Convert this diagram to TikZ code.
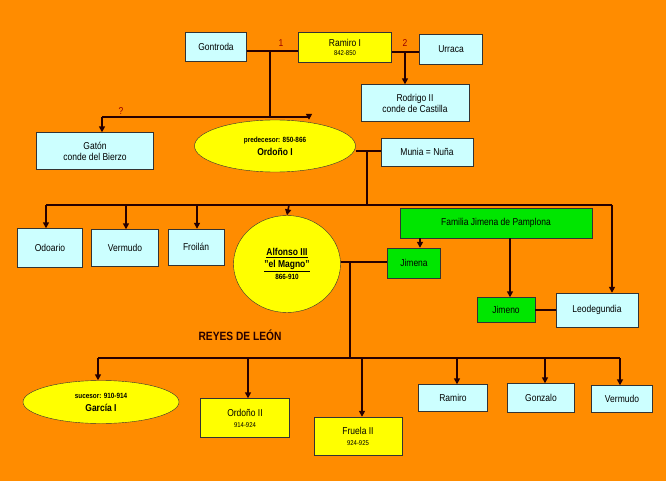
\documentclass[tikz,border=0pt]{standalone}
\usepackage{fontspec}
\setmainfont{Liberation Sans}[FakeStretch=0.85]
\usetikzlibrary{shapes.geometric,arrows.meta}
\definecolor{bg}{RGB}{255,140,0}
\definecolor{cy}{RGB}{204,255,255}
\definecolor{ye}{RGB}{255,255,0}
\definecolor{gr}{RGB}{0,230,0}
\begin{document}
\begin{tikzpicture}[x=1pt,y=-1pt,
  bx/.style={draw=black!80,fill=cy,inner sep=0pt,align=center,font=\fontsize{10}{11}\selectfont},
  yb/.style={bx,fill=ye},
  gb/.style={bx,fill=gr},
  el/.style={ellipse,draw=black!80,fill=ye,inner sep=0pt,align=center},
  ln/.style={line width=1.6pt,draw=black!85!red},
  ar/.style={ln,-{Triangle[length=6pt,width=6pt]}},
  lb/.style={text=red!60!black,font=\fontsize{10}{11}\selectfont}]
\fill[bg] (0,0) rectangle (666,481);
\node[bx,minimum width=61,minimum height=29] (gon) at (216,47) {Gontroda};
\node[yb,minimum width=93,minimum height=30] (ram) at (345,47) {Ramiro I\\[-2pt]{\fontsize{7}{8}\selectfont 842-850}};
\node[bx,minimum width=63,minimum height=30] (urr) at (451,49) {Urraca};
\node[bx,minimum width=108,minimum height=37] (rod) at (415,103) {Rodrigo II\\conde de Castilla};
\node[bx,minimum width=117,minimum height=37] (gat) at (95,151) {Gatón\\conde del Bierzo};
\node[el,minimum width=161,minimum height=52] (ord) at (275,146) {\fontsize{7.5}{9}\selectfont\bfseries predecesor: 850-866\\[1pt]\fontsize{10}{11}\selectfont\bfseries Ordoño I};
\node[bx,minimum width=92,minimum height=28] (mun) at (427,152) {Munia = Nuña};
\node[bx,minimum width=65,minimum height=39] (odo) at (50,248) {Odoario};
\node[bx,minimum width=67,minimum height=37] (ver) at (125,248) {Vermudo};
\node[bx,minimum width=56,minimum height=36] (fro) at (196,247) {Froilán};
\node[el,minimum width=107,minimum height=97] (alf) at (287,264) {\fontsize{10}{11}\selectfont\bfseries\underline{Alfonso III}\\\fontsize{10}{11}\selectfont\bfseries\underline{"el Magno"}\\\fontsize{7.5}{9}\selectfont\bfseries 866-910};
\node[gb,minimum width=192,minimum height=30] (fam) at (496,223) {Familia Jimena de Pamplona};
\node[gb,minimum width=53,minimum height=30] (jim) at (414,263) {Jimena};
\node[gb,minimum width=58,minimum height=25] (jmo) at (506,310) {Jimeno};
\node[bx,minimum width=82,minimum height=34] (leo) at (597,310) {Leodegundia};
\node[font=\fontsize{12}{14}\selectfont\bfseries,text=black!85!red] (rey) at (240,335) {REYES DE LEÓN};
\node[el,minimum width=156,minimum height=43] (gar) at (101,402) {\fontsize{7.5}{9}\selectfont\bfseries sucesor: 910-914\\[1pt]\fontsize{10}{11}\selectfont\bfseries García I};
\node[yb,minimum width=89,minimum height=39] (or2) at (245,418) {Ordoño II\\{\fontsize{7}{8}\selectfont 914-924}};
\node[yb,minimum width=88,minimum height=38] (fru) at (358,436) {Fruela II\\{\fontsize{7}{8}\selectfont 924-925}};
\node[bx,minimum width=69,minimum height=27] (ra2) at (453,398) {Ramiro};
\node[bx,minimum width=67,minimum height=29] (gonz) at (541,398) {Gonzalo};
\node[bx,minimum width=61,minimum height=27] (ve2) at (622,399) {Vermudo};
% top
\draw[ln] (gon.east|-0,51) -- (ram.west|-0,51);
\node[lb] (l1) at (281,43) {1};
\draw[ln] (ram.east|-0,52) -- (urr.west|-0,52);
\node[lb] (l2) at (405,43) {2};
\draw[ar] (405,52) -- (rod.north-|405,0);
\draw[ln] (270,51) -- (270,117);
\draw[ln] (102,117) -- (309,117);
\draw[ar] (102,117) -- (gat.north-|102,0);
\draw[ar] (309,117) -- (ord.north-|309,0);
\node[lb] (q) at (121,111) {?};
% Ordono I
\draw[ln] (ord.east|-0,151) -- (mun.west|-0,151);
\draw[ln] (367,151) -- (367,205);
\draw[ln] (46,205) -- (612,205);
\draw[ar] (46,205) -- (odo.north-|46,0);
\draw[ar] (126,205) -- (ver.north-|126,0);
\draw[ar] (197,205) -- (fro.north-|197,0);
\draw[ar] (289,205) -- (alf.north);
\draw[ar] (612,205) -- (leo.north-|612,0);
% Familia
\draw[ar] (fam.south-|420,0) -- (jim.north-|420,0);
\draw[ar] (fam.south-|510,0) -- (jmo.north-|510,0);
\draw[ln] (jmo) -- (leo);
% Alfonso
\draw[ln] (alf.east|-0,262) -- (jim.west|-0,262);
\draw[ln] (350,262) -- (350,358);
\draw[ln] (98,358) -- (620,358);
\draw[ar] (98,358) -- (gar.north-|98,0);
\draw[ar] (248,358) -- (or2.north-|248,0);
\draw[ar] (362,358) -- (fru.north-|362,0);
\draw[ar] (457,358) -- (ra2.north-|457,0);
\draw[ar] (545,358) -- (gonz.north-|545,0);
\draw[ar] (620,358) -- (ve2.north-|620,0);
\end{tikzpicture}
\end{document}
